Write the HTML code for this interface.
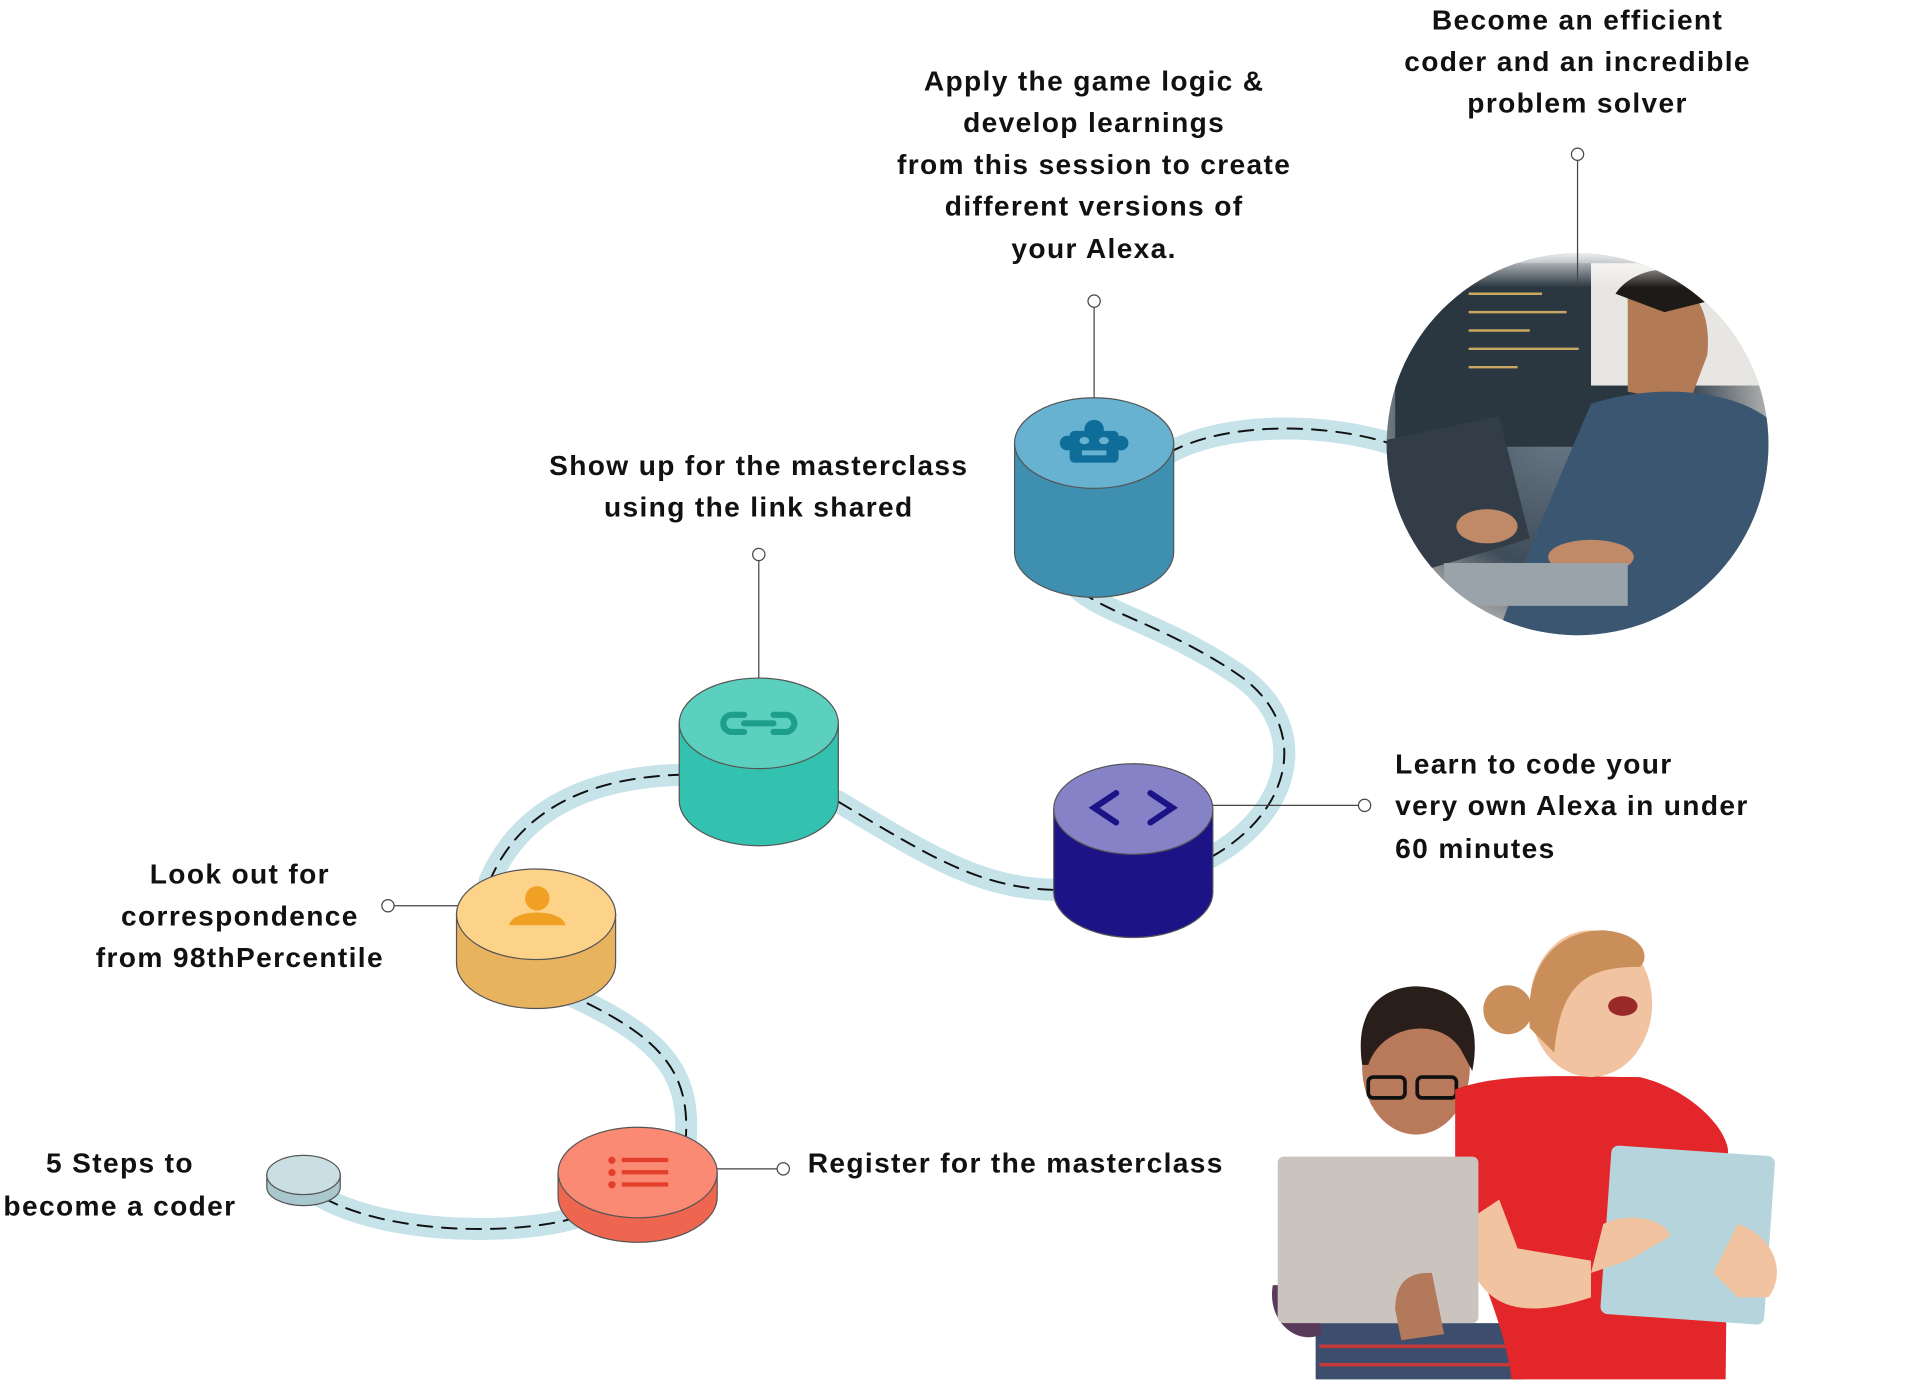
<!DOCTYPE html>
<html><head><meta charset="utf-8"><style>
html,body{margin:0;padding:0;background:#fff;}
svg{display:block;}
text{font-family:"Liberation Sans",sans-serif;font-weight:bold;font-size:23px;letter-spacing:1.1px;fill:#111;}
</style></head><body>
<svg width="1919" height="1380" viewBox="0 0 1568 1127.5" preserveAspectRatio="none">
<defs>
<radialGradient id="ph" cx="0.45" cy="0.45" r="0.6">
<stop offset="0" stop-color="#6b7a88"/><stop offset="0.6" stop-color="#3f4d5a"/><stop offset="1" stop-color="#d9d4cd"/>
</radialGradient>
<linearGradient id="fade" x1="0" y1="0" x2="0" y2="1"><stop offset="0" stop-color="#fff" stop-opacity="0.9"/><stop offset="1" stop-color="#fff" stop-opacity="0"/></linearGradient>
<clipPath id="cc"><circle cx="1289" cy="363" r="156"/></clipPath>
</defs>
<g fill="none" stroke-linecap="round">
<path d="M248 968 C300 1010 420 1010 470 995 M560 935 C565 880 545 850 470 815 M400 720 C430 650 500 635 555 633 M685 655 C760 700 800 725 860 727 M990 700 C1060 660 1070 590 1010 550 C950 510 900 500 880 480 M955 370 C1000 345 1080 345 1135 362" stroke="#c5e3e8" stroke-width="18"/>
<path d="M248 968 C300 1010 420 1010 470 995 M560 935 C565 880 545 850 470 815 M400 720 C430 650 500 635 555 633 M685 655 C760 700 800 725 860 727 M990 700 C1060 660 1070 590 1010 550 C950 510 900 500 880 480 M955 370 C1000 345 1080 345 1135 362" stroke="#111" stroke-width="1.6" stroke-dasharray="12 8"/>
</g>
<g clip-path="url(#cc)">
<rect x="1130" y="205" width="320" height="320" fill="url(#ph)"/>
<rect x="1140" y="215" width="200" height="150" fill="#2a3640"/>
<g stroke="#c9a760" stroke-width="2"><line x1="1200" y1="240" x2="1260" y2="240"/><line x1="1200" y1="255" x2="1280" y2="255"/><line x1="1200" y1="270" x2="1250" y2="270"/><line x1="1200" y1="285" x2="1290" y2="285"/><line x1="1200" y1="300" x2="1240" y2="300"/></g>
<polygon points="1130,360 1225,340 1250,440 1150,470" fill="#333d47"/>
<rect x="1300" y="215" width="160" height="100" fill="#e8e6e2"/>
<path d="M1330 240 C1370 215 1400 240 1395 290 L1380 330 L1330 320 Z" fill="#b27a55"/>
<path d="M1320 240 C1340 210 1400 215 1400 245 L1360 255 Z" fill="#1e1a18"/>
<path d="M1300 330 C1360 310 1440 320 1460 360 L1460 530 L1220 530 C1240 470 1270 400 1300 330 Z" fill="#3b5670"/>
<ellipse cx="1215" cy="430" rx="25" ry="14" fill="#c08a68"/>
<ellipse cx="1300" cy="455" rx="35" ry="14" fill="#c08a68"/>
<rect x="1180" y="460" width="150" height="35" fill="#9aa3aa"/>
<rect x="1130" y="205" width="320" height="30" fill="url(#fade)"/>
</g>
<g>
<ellipse cx="1157" cy="872" rx="44" ry="55" fill="#b87a5a"/>
<path d="M1113 870 C1105 815 1140 805 1160 806 C1200 808 1210 840 1203 875 L1195 860 C1180 830 1130 835 1118 870 Z" fill="#2a1e1a"/>
<rect x="1118" y="880" width="30" height="17" rx="4" fill="none" stroke="#111" stroke-width="3"/>
<rect x="1158" y="880" width="32" height="17" rx="4" fill="none" stroke="#111" stroke-width="3"/>
<path d="M1075 1081 L1244 1081 L1244 1127 L1075 1127 Z" fill="#3d4d6d"/>
<path d="M1078 1100 L1240 1100 M1078 1115 L1240 1115" stroke="#c23a3a" stroke-width="3"/>
<path d="M1040 1050 C1035 1080 1060 1100 1080 1090 L1075 1050 Z" fill="#5a3a5a"/>
<path d="M1189 890 C1230 875 1290 880 1340 880 C1380 890 1410 920 1412 940 L1410 1127 L1235 1127 C1230 1080 1200 1020 1189 985 Z" fill="#e3262a"/>
<ellipse cx="1300" cy="820" rx="50" ry="60" fill="#f1c3a1"/>
<path d="M1250 840 C1245 780 1280 760 1310 760 C1340 762 1350 780 1340 790 C1300 790 1275 800 1270 860 Z" fill="#c98e5a"/>
<circle cx="1232" cy="825" r="20" fill="#c98e5a"/>
<ellipse cx="1326" cy="822" rx="12" ry="8" fill="#9a2a2a"/>
<path d="M1195 1000 C1200 1070 1240 1080 1300 1060 L1300 1030 L1240 1020 L1225 980 Z" fill="#f1c3a1"/>
<rect x="1044" y="945" width="164" height="136" rx="5" fill="#cbc4be"/>
<path d="M1140 1070 C1140 1040 1160 1040 1170 1040 L1180 1090 L1145 1095 Z" fill="#b27a5a"/>
<g transform="rotate(4 1378 1009)"><rect x="1312" y="940" width="134" height="138" rx="6" fill="#b6d4dc"/></g>
<path d="M1310 1000 C1330 990 1360 995 1365 1010 L1330 1030 L1300 1040 Z" fill="#f1c3a1"/>
<path d="M1420 1000 C1450 1010 1460 1040 1445 1060 L1420 1060 L1400 1040 Z" fill="#f1c3a1"/>
</g>
<g stroke="#444" stroke-width="1" fill="#fff">
<line x1="894" y1="251" x2="894" y2="334"/><circle cx="894" cy="246" r="5"/>
<line x1="1289" y1="131" x2="1289" y2="233"/><circle cx="1289" cy="126" r="5"/>
<line x1="620" y1="458" x2="620" y2="565"/><circle cx="620" cy="453" r="5"/>
<line x1="970" y1="658" x2="1110" y2="658"/><circle cx="1115" cy="658" r="5"/>
<line x1="322" y1="740" x2="400" y2="740"/><circle cx="317" cy="740" r="5"/>
<line x1="556" y1="955" x2="635" y2="955"/><circle cx="640" cy="955" r="5"/>
</g>
<g stroke="#555" stroke-width="1">
<path d="M218 960 L218 970 A30 15 0 0 0 278 970 L278 960 Z" fill="#a9c8cd"/><ellipse cx="248" cy="960" rx="30" ry="16" fill="#c9dfe3"/>
<path d="M456 958 L456 978 A65 37 0 0 0 586 978 L586 958 Z" fill="#ef6650"/><ellipse cx="521" cy="958" rx="65" ry="37" fill="#fb8a74"/>
<path d="M373 747 L373 787 A65 37 0 0 0 503 787 L503 747 Z" fill="#e8b35e"/><ellipse cx="438" cy="747" rx="65" ry="37" fill="#fdd38a"/>
<path d="M555 591 L555 654 A65 37 0 0 0 685 654 L685 591 Z" fill="#33c2b0"/><ellipse cx="620" cy="591" rx="65" ry="37" fill="#5bd0bf"/>
<path d="M861 661 L861 729 A65 37 0 0 0 991 729 L991 661 Z" fill="#1c1387"/><ellipse cx="926" cy="661" rx="65" ry="37" fill="#8682c8"/>
<path d="M829 362 L829 451 A65 37 0 0 0 959 451 L959 362 Z" fill="#3f8fb0"/><ellipse cx="894" cy="362" rx="65" ry="37" fill="#67b2d1"/>
</g>
<g fill="#0e6e99"><rect x="874" y="352" width="40" height="26" rx="4"/><circle cx="894" cy="351" r="8"/><circle cx="872" cy="362" r="6"/><circle cx="916" cy="362" r="6"/></g>
<g fill="#67b2d1"><ellipse cx="886" cy="360" rx="4" ry="3"/><ellipse cx="902" cy="360" rx="4" ry="3"/><rect x="884" y="368" width="20" height="4"/></g>
<g fill="none" stroke="#1e9e8c" stroke-width="5" stroke-linecap="round"><path d="M608 584 H598 A7 7 0 0 0 598 598 H608"/><path d="M632 584 H642 A7 7 0 0 1 642 598 H632"/><line x1="608" y1="591" x2="632" y2="591"/></g>
<g fill="none" stroke="#1c1387" stroke-width="5" stroke-linecap="round"><path d="M912 648 L894 660 L912 672"/><path d="M940 648 L958 660 L940 672"/></g>
<g fill="#f0a022"><circle cx="439" cy="734" r="10"/><path d="M416 756 C418 742 460 742 462 756 Z"/></g>
<g fill="#e33f2a"><circle cx="500" cy="948" r="3"/><circle cx="500" cy="958" r="3"/><circle cx="500" cy="968" r="3"/><rect x="508" y="946" width="38" height="3.5"/><rect x="508" y="956" width="38" height="3.5"/><rect x="508" y="966" width="38" height="3.5"/></g>
<g text-anchor="middle">
<text x="1289" y="24">Become an efficient</text><text x="1289" y="58">coder and an incredible</text><text x="1289" y="92">problem solver</text>
<text x="894" y="74">Apply the game logic &amp;</text><text x="894" y="108">develop learnings</text><text x="894" y="142">from this session to create</text><text x="894" y="176">different versions of</text><text x="894" y="211">your Alexa.</text>
<text x="620" y="388">Show up for the masterclass</text><text x="620" y="422">using the link shared</text>
<text x="196" y="722">Look out for</text><text x="196" y="756">correspondence</text><text x="196" y="790">from 98thPercentile</text>
<text x="98" y="958">5 Steps to</text><text x="98" y="993">become a coder</text>
</g>
<text x="1140" y="632">Learn to code your</text><text x="1140" y="666">very own Alexa in under</text><text x="1140" y="701">60 minutes</text>
<text x="660" y="958">Register for the masterclass</text>
</svg>
</body></html>
